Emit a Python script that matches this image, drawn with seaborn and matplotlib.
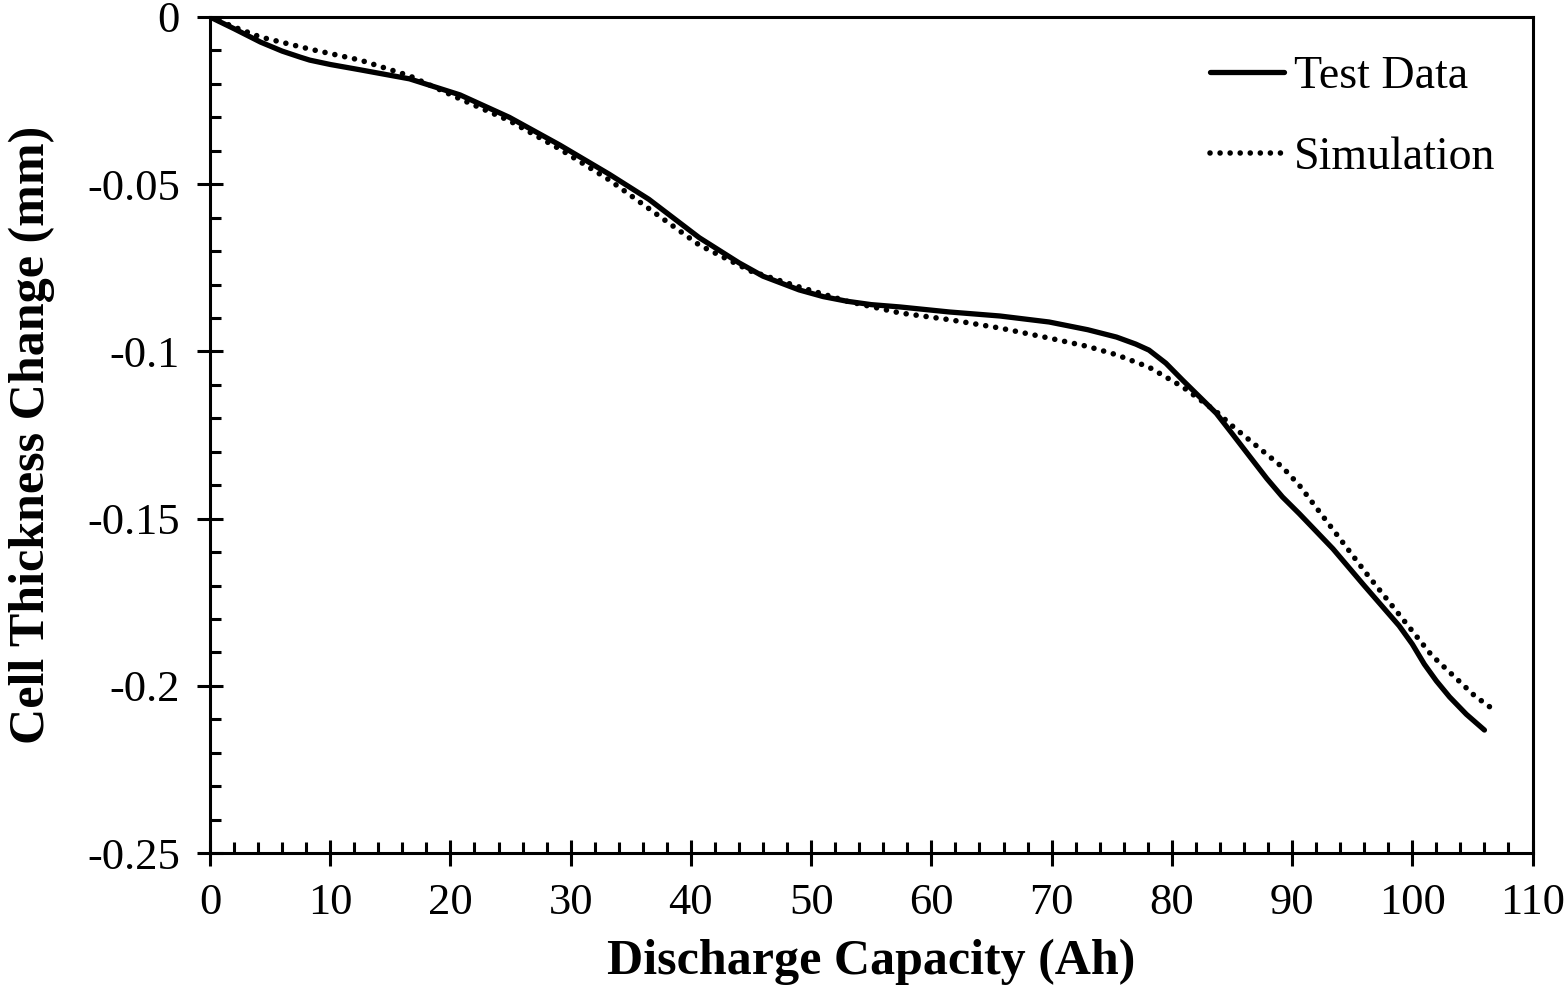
import matplotlib
matplotlib.use("Agg")
import matplotlib.pyplot as plt
from matplotlib.ticker import MultipleLocator, FuncFormatter
import seaborn as sns
import pandas as pd

# Test data
test_x = [0, 2, 4.2, 6, 7.5, 8.3, 10, 12.5, 16.6, 20.8, 24.9, 29.1, 33.2, 36.5,
          40.7, 44, 46, 49, 51, 53, 55, 57.4, 61.5, 65.7, 69.8, 73, 75.4, 77,
          78.1, 79.5, 80.9, 83.7, 85, 86.5, 87.9, 89.2, 90.6, 93.4, 96, 98.9,
          100, 101, 102, 103.1, 104.5, 106]
test_y = [0, -0.0035, -0.0075, -0.0102, -0.0120, -0.0129, -0.0142, -0.0158,
          -0.0185, -0.0233, -0.0300, -0.0383, -0.0470, -0.0545, -0.0660,
          -0.0735, -0.0775, -0.0816, -0.0836, -0.0850, -0.0860, -0.0867,
          -0.0882, -0.0894, -0.0912, -0.0935, -0.0957, -0.0978, -0.0996,
          -0.1035, -0.1086, -0.1185, -0.1245, -0.1315, -0.1380, -0.1435,
          -0.1485, -0.1590, -0.1700, -0.1820, -0.1875, -0.1935, -0.1985,
          -0.2033, -0.2085, -0.2132]

# Simulation
sim_x = [0, 2, 4.2, 8.3, 12.5, 16.6, 20.8, 24.9, 29.1, 33.2, 40.7, 45, 49, 53,
         57.4, 61.5, 65.7, 69.8, 73, 75.4, 78.1, 80.9, 83.7, 85.1, 89.2, 90.6,
         96.1, 101.6, 105.2, 106.8]
sim_y = [0, -0.003, -0.006, -0.0096, -0.0129, -0.0176, -0.0245, -0.031,
         -0.0395, -0.0487, -0.0682, -0.0760, -0.0807, -0.0850, -0.0885,
         -0.0905, -0.0930, -0.0960, -0.0985, -0.1010, -0.1047, -0.1106,
         -0.1180, -0.1225, -0.1346, -0.1400, -0.1660, -0.1908, -0.2030,
         -0.2072]

test = pd.DataFrame({"x": test_x, "y": test_y})
sim = pd.DataFrame({"x": sim_x, "y": sim_y})

sns.set_theme(style="white")
plt.rcParams["font.family"] = ["Liberation Serif", "DejaVu Serif"]
plt.rcParams["axes.unicode_minus"] = False
plt.rcParams["text.color"] = "black"
plt.rcParams["axes.labelcolor"] = "black"

fig = plt.figure(figsize=(15.67, 9.99), dpi=100)
ax = fig.add_axes([0.134, 0.146, 0.844, 0.837])

sns.lineplot(data=test, x="x", y="y", ax=ax, color="black", linewidth=3.8,
             label="Test Data", sort=False)
sns.lineplot(data=sim, x="x", y="y", ax=ax, color="black", linewidth=4.0,
             linestyle=(0, (0.01, 1.8)), dash_capstyle="round",
             label="Simulation", sort=False)

ax.set_xlim(0, 110)
ax.set_ylim(-0.25, 0)
ax.xaxis.set_major_locator(MultipleLocator(10))
ax.xaxis.set_minor_locator(MultipleLocator(2))
ax.yaxis.set_major_locator(MultipleLocator(0.05))
ax.yaxis.set_minor_locator(MultipleLocator(0.01))
ax.yaxis.set_major_formatter(FuncFormatter(lambda v, p: "%g" % round(v, 4)))

ax.tick_params(which="major", direction="inout", length=19, width=2.2,
               labelsize=32, color="black", labelcolor="black", pad=12)
ax.tick_params(which="minor", direction="in", length=8, width=2.2, color="black")
ax.tick_params(bottom=True, left=True, top=False, right=False, which="both")

for s in ax.spines.values():
    s.set_visible(True)
    s.set_color("black")
    s.set_linewidth(2.2)

ax.set_xlabel("Discharge Capacity (Ah)", fontsize=36, fontweight="bold", labelpad=11)
ax.set_ylabel("Cell Thickness Change (mm)", fontsize=36, fontweight="bold", labelpad=23)

leg = ax.legend(loc="upper right", frameon=False, fontsize=33, handlelength=1.6,
                handletextpad=0.22, labelspacing=0.84,
                bbox_to_anchor=(1.003, 1.003))

fig.savefig("out.png", dpi=100)
